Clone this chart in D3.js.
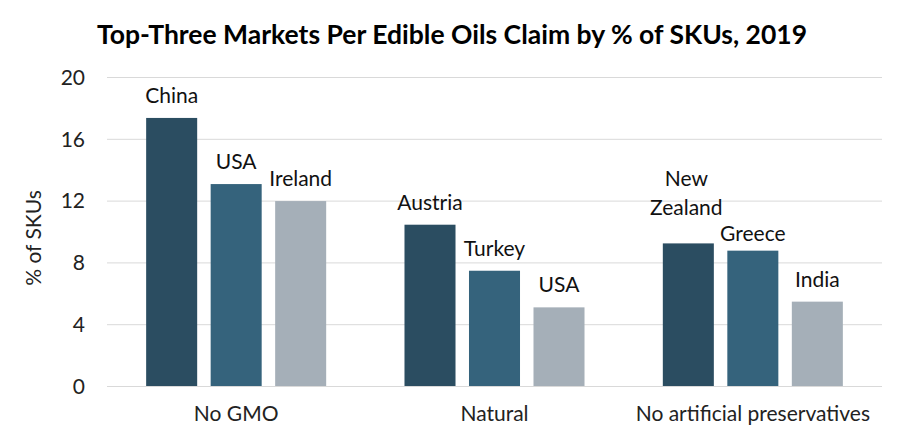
<!DOCTYPE html>
<html><head><meta charset="utf-8">
<script src="https://cdn.jsdelivr.net/npm/d3@7"></script>
<style>body{margin:0;background:#fff}svg{display:block}</style>
</head><body>
<svg id="c" width="904" height="444"></svg>
<script>
const categories = ["No GMO", "Natural", "No artificial preservatives"];
const rankKeys = ["first", "second", "third"];
const marketNames = [["China", "USA", "Ireland"], ["Austria", "Turkey", "USA"], ["New Zealand", "Greece", "India"]];
const values = [[17.35, 13.07, 11.97], [10.44, 7.46, 5.09], [9.23, 8.76, 5.46]];
const yTicks = [0, 4, 8, 12, 16, 20];
const colors = ["#2B4D61", "#35637C", "#A5AFB8"];

const svg = d3.select("#c");
const font = "Lato, 'Open Sans', sans-serif";
const m = {l: 107, r: 882, t: 77, b: 386};

const x0 = d3.scaleBand().domain(categories).range([m.l, m.r]).paddingInner(0).paddingOuter(0);
const x1 = d3.scaleBand().domain(rankKeys).range([0, x0.bandwidth()]).paddingInner(0.209).paddingOuter(0.607);
const y = d3.scaleLinear().domain([0, 20]).range([m.b, m.t]);

svg.append("text").attr("x", 452).attr("y", 44).attr("text-anchor", "middle")
  .attr("font-family", font).attr("font-weight", "bold").attr("font-size", 26.5).attr("fill", "#000")
  .text("Top-Three Markets Per Edible Oils Claim by % of SKUs, 2019");

const yAxis = d3.axisLeft(y).tickValues(yTicks).tickSize(-(m.r - m.l)).tickPadding(22);
const ga = svg.append("g").attr("transform", `translate(${m.l},0)`).call(yAxis);
ga.select(".domain").remove();
ga.selectAll(".tick line").attr("stroke", "#D9D9D9").attr("stroke-width", 1);
ga.selectAll(".tick text").attr("font-family", font).attr("font-size", 21).attr("fill", "#222").attr("dy", "0.35em");

svg.append("text").attr("transform", "translate(41,238) rotate(-90)").attr("text-anchor", "middle")
  .attr("font-family", font).attr("font-size", 21).attr("fill", "#222").text("% of SKUs");

const xAxis = d3.axisBottom(x0).tickSize(0).tickPadding(20);
const gx = svg.append("g").attr("transform", `translate(0,${m.b})`).call(xAxis);
gx.select(".domain").remove();
gx.selectAll(".tick text").attr("font-family", font).attr("font-size", 21).attr("fill", "#222");

categories.forEach((cat, ci) => {
  const g = svg.append("g").attr("transform", `translate(${x0(cat)},0)`);
  rankKeys.forEach((k, ri) => {
    const v = values[ci][ri];
    g.append("rect").attr("x", x1(k)).attr("y", y(v)).attr("width", x1.bandwidth())
      .attr("height", y(0) - y(v)).attr("fill", colors[ri]);
    const name = marketNames[ci][ri];
    const cx = x1(k) + x1.bandwidth() / 2;
    const t = g.append("text").attr("text-anchor", "middle").attr("font-family", font)
      .attr("font-size", 21).attr("fill", "#111");
    if (name === "New Zealand") {
      t.append("tspan").attr("x", cx - 2).attr("y", y(v) - 57).text("New");
      t.append("tspan").attr("x", cx - 2).attr("y", y(v) - 28).text("Zealand");
    } else if (name === "Greece") {
      t.attr("x", cx).attr("y", y(v) - 10).text(name);
    } else {
      t.attr("x", cx).attr("y", y(v) - 15).text(name);
    }
  });
});
</script>
</body></html>
